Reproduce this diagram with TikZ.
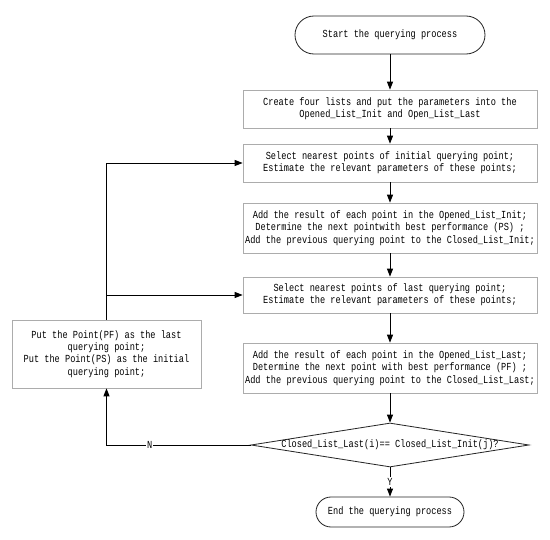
\documentclass[tikz,border=0pt]{standalone}
\usepackage{fontspec}
\setmonofont[FakeStretch=0.8]{Liberation Mono}
\usetikzlibrary{arrows.meta,shapes.geometric}

\newcommand{\flowfont}{\ttfamily\fontsize{9.2}{10.6}\selectfont}

\tikzset{
	stepbox/.style={draw=gray!65, line width=0.6pt, align=center, inner sep=0pt, minimum width=8.82cm, font=\flowfont},
	terminal/.style={draw=black!85, line width=0.7pt, align=center, inner sep=0pt, font=\flowfont},
	decision/.style={diamond, draw=black!85, line width=0.7pt, inner sep=0pt, minimum width=8.34cm, minimum height=1.32cm, font=\flowfont},
	lbl/.style={fill=white, inner sep=1pt, font=\flowfont}
}

\begin{document}
\begin{tikzpicture}[x=0.03cm, y=-0.03cm, >={Triangle[length=2.4mm,width=1.8mm]}, line width=0.8pt]

\useasboundingbox (0, 0) rectangle (550, 540);

\node[terminal, minimum width=5.7cm, minimum height=1.14cm, rounded corners=0.57cm] (start) at (390, 35) {Start the querying process};
\node[stepbox, minimum height=1.14cm] (create) at (390, 109) {Create four lists and put the parameters into the\\Opened\_List\_Init and Open\_List\_Last};
\node[stepbox, minimum height=1.14cm] (selinit) at (390, 163) {Select nearest points of initial querying point;\\Estimate the relevant parameters of these points;};
\node[stepbox, minimum height=1.5cm] (addinit) at (390, 228) {Add the result of each point in the Opened\_List\_Init;\\Determine the next pointwith best performance (PS) ;\\Add the previous querying point to the Closed\_List\_Init;};
\node[stepbox, minimum height=1.08cm] (sellast) at (390, 295) {Select nearest points of last querying point;\\Estimate the relevant parameters of these points;};
\node[stepbox, minimum height=1.5cm] (addlast) at (390, 368) {Add the result of each point in the Opened\_List\_Last;\\Determine the next point with best performance (PF) ;\\Add the previous querying point to the Closed\_List\_Last;};
\node[decision] (check) at (390, 445) {\makebox[0pt]{Closed\_List\_Last(i)== Closed\_List\_Init(j)?}};
\node[terminal, minimum width=4.44cm, minimum height=0.9cm, rounded corners=0.45cm] (finish) at (390, 512) {End the querying process};
\node[stepbox, minimum width=5.67cm, minimum height=2.04cm] (update) at (106.5, 354) {Put the Point(PF) as the last\\querying point;\\Put the Point(PS) as the initial\\querying point;};

\draw[->] (start) -- (create);
\foreach \a/\b in {create/selinit, selinit/addinit, addinit/sellast, sellast/addlast, addlast/check}
	\draw[->] (\a) -- (\b);
\draw[->] (check) -- node[lbl] {Y} (finish);
\draw[->] (check.west) -| node[lbl, pos=0.35] {N} (update.south);
\draw[->] (update.north) |- (selinit.west);
\draw[->] (update.north) |- (sellast.west);

\end{tikzpicture}
\end{document}
